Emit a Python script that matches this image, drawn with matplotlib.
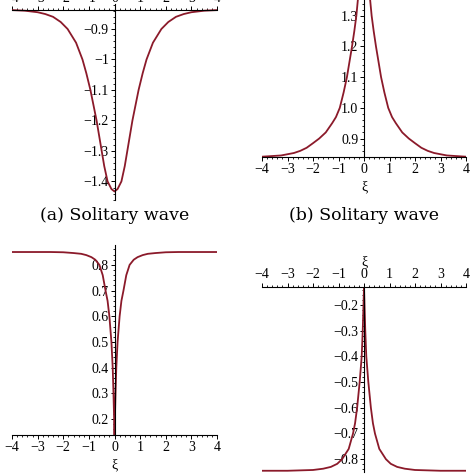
import matplotlib
matplotlib.use("Agg")
import matplotlib.pyplot as plt
import numpy as np
from matplotlib.ticker import MultipleLocator, FuncFormatter

plt.rcParams['font.family'] = ['Liberation Serif', 'DejaVu Serif']

# half-curves (x>=0), mirrored symmetrically
xa = [0, 0.12, 0.27, 0.4, 0.5, 0.6, 0.7, 0.82, 0.94, 1.1, 1.25, 1.5, 1.83, 2.1, 2.4, 2.7, 3, 3.5, 4]
ya = [-1.433, -1.425, -1.40, -1.35, -1.30, -1.25, -1.20, -1.15, -1.10, -1.045, -1.00, -0.945, -0.90, -0.877, -0.86, -0.851, -0.845, -0.84, -0.838]
xb = [0, 0.08, 0.15, 0.22, 0.3, 0.38, 0.47, 0.57, 0.67, 0.8, 0.95, 1.1, 1.25, 1.5, 1.76, 2.0, 2.25, 2.5, 2.75, 3.25, 4]
yb = [1.52, 1.50, 1.44, 1.37, 1.30, 1.25, 1.20, 1.15, 1.10, 1.05, 1.00, 0.97, 0.95, 0.92, 0.90, 0.885, 0.87, 0.86, 0.853, 0.845, 0.841]
xc = [0, 0.015, 0.04, 0.07, 0.12, 0.2, 0.27, 0.35, 0.46, 0.59, 0.75, 0.9, 1.1, 1.3, 1.6, 2, 2.5, 4]
yc = [0.14, 0.2, 0.3, 0.4, 0.5, 0.6, 0.66, 0.7, 0.76, 0.8, 0.82, 0.83, 0.838, 0.843, 0.846, 0.849, 0.85, 0.85]
xd = [0, 0.02, 0.05, 0.09, 0.17, 0.27, 0.35, 0.43, 0.6, 0.86, 1.05, 1.3, 1.6, 2, 3, 4]
yd = [-0.13, -0.2, -0.3, -0.4, -0.5, -0.6, -0.66, -0.7, -0.76, -0.8, -0.818, -0.83, -0.837, -0.842, -0.845, -0.845]

W = H = 474
fig = plt.figure(figsize=(4.74, 4.74), dpi=100)
col = '#8b1a2a'

def fmt(v, p):
    s = ('%.1f' % v)
    if abs(v - round(v)) < 1e-9:
        s = '%d' % round(v)
    return s.replace('-', '\u2212')

def panel(x0, x1, ytop, ybot, ylim, axis_y, xs, ys, xlabels_top, yfmt, ystep=0.1):
    ax = fig.add_axes([x0 / W, 1 - ybot / H, (x1 - x0) / W, (ybot - ytop) / H])
    X = [-v for v in xs[::-1]] + xs[1:]
    Y = ys[::-1] + ys[1:]
    ax.plot(X, Y, color=col, lw=1.3, clip_on=True)
    ax.set_xlim(-4, 4)
    ax.set_ylim(*ylim)
    ax.patch.set_alpha(0)
    for s in ax.spines.values():
        s.set_visible(False)
    ax.spines['left'].set_visible(True)
    ax.spines['left'].set_position(('data', 0))
    side = 'top' if xlabels_top else 'bottom'
    ax.spines[side].set_visible(True)
    ax.spines[side].set_position(('data', axis_y))
    ax.xaxis.set_ticks_position(side)
    ax.xaxis.set_major_locator(MultipleLocator(1))
    ax.xaxis.set_minor_locator(MultipleLocator(0.2))
    ax.yaxis.set_major_locator(MultipleLocator(ystep))
    ax.yaxis.set_minor_locator(MultipleLocator(ystep / 5))
    ax.xaxis.set_major_formatter(FuncFormatter(fmt))
    ax.yaxis.set_major_formatter(FuncFormatter(yfmt))
    ax.tick_params(which='major', length=3, width=0.7, labelsize=10, pad=1, direction='out')
    ax.tick_params(which='minor', length=1.5, width=0.6)
    for s in ax.spines.values():
        s.set_linewidth(0.8)
    yt = [t for t in ax.get_yticks() if min(ylim) <= t <= max(ylim)]
    if xlabels_top:
        yt = [t for t in yt if t < axis_y - 0.02]
    else:
        yt = [t for t in yt if t > axis_y + 0.02]
    ax.set_yticks(yt)
    return ax

yf = lambda v, p: ('%.1f' % v).replace('-', '\u2212').replace('\u22121.0', '\u22121')
panel(12, 217, 4, 200, (-1.461, -0.818), -0.838, xa, ya, True, yf)
yfb = lambda v, p: ('%.1f' % v)
panel(262, 466, 0, 157, (0.84, 0.84 + 157 / 307), 0.84, xb, yb, False, yfb)
panel(12, 217, 245, 435, (0.138, 0.138 + 190 / 257), 0.138, xc, yc, False, yfb)
panel(262, 466, 287, 472, (-0.13 - 185 / 257, -0.13), -0.13, xd, yd, True, yf)

fs = 10
fig.text(364 / W, 1 - 187 / H, 'ξ', ha='center', va='center', fontsize=fs)
fig.text(115 / W, 1 - 465 / H, 'ξ', ha='center', va='center', fontsize=fs)
fig.text(365 / W, 1 - 262 / H, 'ξ', ha='center', va='center', fontsize=fs)
cap = dict(ha='center', va='center', fontsize=12.5, family='DejaVu Serif')
fig.text(115 / W, 1 - 215 / H, '(a) Solitary wave', **cap)
fig.text(364 / W, 1 - 215 / H, '(b) Solitary wave', **cap)

fig.savefig('out.png', dpi=100)
